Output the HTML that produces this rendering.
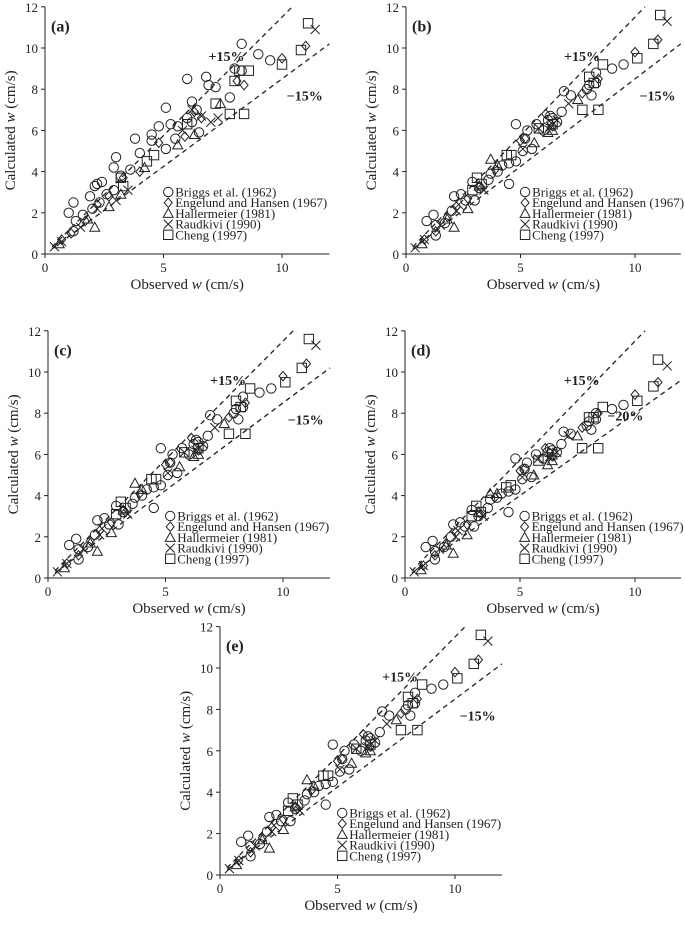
<!DOCTYPE html>
<html><head><meta charset="utf-8"><style>
html,body{margin:0;padding:0;background:#fff}
svg{display:block;font-family:"Liberation Serif",serif}
</style></head><body>
<svg id="chart" width="685" height="940" viewBox="0 0 685 940" xmlns="http://www.w3.org/2000/svg"></svg>
<script>
// ---- data (observed, calculated) per panel ----
const briggsA=[[1.0,2.0],[1.2,2.5],[1.3,1.6],[1.2,1.1],[1.6,1.9],[1.9,2.8],[2.1,3.3],[2.2,3.4],[2.4,3.5],[2.0,2.2],[2.3,2.5],[2.6,2.9],[2.9,3.1],[3.0,4.7],[2.9,4.2],[3.2,3.8],[3.6,4.1],[3.8,5.6],[4.0,4.9],[4.5,5.8],[4.5,5.5],[4.8,6.2],[5.1,7.1],[5.1,5.1],[5.3,6.3],[5.5,5.6],[5.6,6.2],[6.0,8.5],[6.0,6.6],[6.2,7.4],[6.4,7.0],[6.5,5.9],[6.8,8.6],[6.9,8.2],[7.2,8.1],[7.8,7.6],[8.0,9.0],[8.3,10.2],[8.3,8.9],[9.0,9.7],[9.5,9.4],[6.2,6.4]];
const engelundA=[[0.7,0.7],[1.1,1.0],[1.7,1.6],[2.2,2.4],[2.7,2.8],[3.3,3.7],[4.0,4.0],[4.8,5.4],[5.9,5.7],[6.3,6.9],[8.1,8.4],[8.4,8.2],[10.0,9.5],[11.0,10.1],[6.6,6.6]];
const hallerA=[[0.6,0.5],[2.1,1.3],[2.7,2.3],[3.2,2.9],[5.6,5.3],[6.3,5.8],[7.4,7.3],[4.2,4.2],[1.8,1.7]];
const raudA=[[0.4,0.35],[0.7,0.6],[1.5,1.3],[2.2,2.2],[3.0,2.6],[3.5,3.1],[5.8,6.0],[6.6,6.7],[7.0,6.4],[7.3,6.6],[11.4,10.9],[6.2,7.0]];
const chengA=[[3.2,3.7],[3.3,3.3],[4.3,4.5],[4.6,4.8],[6.0,6.3],[7.2,7.3],[7.8,6.8],[8.0,8.4],[8.2,8.9],[8.6,8.9],[8.4,6.8],[10.0,9.2],[10.8,9.9],[11.1,11.2]];

const briggsB=[[0.9,1.6],[1.2,1.9],[1.3,1.4],[1.3,0.9],[1.7,1.5],[2.0,2.1],[2.1,2.8],[2.4,2.9],[2.6,2.6],[2.9,3.5],[3.0,2.6],[3.2,3.2],[3.6,3.6],[3.7,3.9],[4.0,4.0],[4.2,4.3],[4.5,4.4],[4.5,3.4],[4.8,6.3],[4.8,4.5],[5.1,5.0],[5.3,6.0],[5.2,5.6],[5.5,5.1],[6.0,6.0],[6.2,6.5],[6.3,6.7],[6.6,6.4],[6.8,6.9],[6.9,7.9],[7.2,7.7],[7.9,8.0],[8.0,8.2],[8.1,7.7],[8.3,8.3],[8.3,8.8],[9.0,9.0],[9.5,9.2],[5.7,6.3],[6.4,6.6]];
const engelundB=[[0.8,0.7],[1.3,1.1],[1.8,1.8],[2.2,2.3],[2.7,2.7],[3.3,3.2],[3.9,4.1],[5.0,5.5],[5.2,5.6],[6.1,6.8],[6.4,6.2],[7.7,7.8],[8.4,8.5],[10.0,9.8],[11.0,10.4]];
const hallerB=[[0.7,0.5],[2.1,1.3],[2.7,2.2],[3.2,3.3],[3.7,4.6],[5.6,5.4],[6.2,5.9],[6.4,6.0],[7.5,7.5],[4.0,4.3],[1.8,1.7]];
const raudB=[[0.4,0.3],[0.8,0.7],[1.5,1.4],[2.2,2.1],[2.3,2.4],[3.4,3.1],[5.1,5.1],[6.3,6.2],[6.6,6.5],[7.1,7.3],[11.4,11.3],[5.8,6.1]];
const chengB=[[2.9,3.1],[3.1,3.7],[3.3,3.4],[4.4,4.8],[4.6,4.8],[5.8,6.1],[6.4,6.3],[7.7,7.0],[8.0,8.6],[8.2,8.3],[8.6,9.2],[8.4,7.0],[10.1,9.5],[10.8,10.2],[11.1,11.6]];

const briggsD=[[0.9,1.5],[1.2,1.8],[1.3,1.3],[1.3,0.9],[1.7,1.5],[2.0,2.0],[2.1,2.6],[2.4,2.7],[2.6,2.5],[2.9,3.3],[3.0,2.5],[3.2,3.0],[3.6,3.4],[3.7,3.8],[4.0,3.9],[4.2,4.1],[4.5,4.2],[4.5,3.2],[4.8,5.8],[4.8,4.3],[5.1,4.8],[5.3,5.6],[5.2,5.3],[5.5,4.9],[6.0,5.8],[6.2,6.1],[6.3,6.3],[6.6,6.1],[6.8,6.5],[6.9,7.1],[7.2,7.0],[7.9,7.4],[8.0,7.6],[8.1,7.2],[8.3,7.7],[8.3,8.0],[9.0,8.2],[9.5,8.4],[5.7,6.0],[6.4,6.2]];
const engelundD=[[0.8,0.6],[1.3,1.1],[1.8,1.7],[2.2,2.2],[2.7,2.6],[3.3,3.1],[3.9,3.9],[5.0,5.2],[5.2,5.3],[6.1,6.3],[6.4,5.9],[7.7,7.3],[8.4,8.0],[10.0,8.9],[11.0,9.5]];
const hallerD=[[0.7,0.4],[2.1,1.2],[2.7,2.1],[3.2,3.2],[3.7,4.1],[5.6,5.0],[6.2,5.5],[6.4,5.7],[7.5,6.9],[4.0,4.1],[1.8,1.6]];
const raudD=[[0.4,0.3],[0.8,0.6],[1.5,1.4],[2.2,2.0],[2.3,2.3],[3.4,3.0],[5.1,4.9],[6.3,5.9],[6.6,6.1],[7.1,6.9],[11.4,10.3],[5.8,5.8]];
const chengD=[[2.9,3.0],[3.1,3.5],[3.3,3.2],[4.4,4.4],[4.6,4.5],[5.8,5.7],[6.4,6.0],[7.7,6.3],[8.0,7.8],[8.2,7.8],[8.6,8.3],[8.4,6.3],[10.1,8.6],[10.8,9.3],[11.0,10.6]];

const seriesNames=["Briggs et al. (1962)","Engelund and Hansen (1967)","Hallermeier (1981)","Raudkivi (1990)","Cheng (1997)"];
const seriesKeys=["circle","diamond","triangle","cross","square"];
const xTicks=[0,5,10];
const yTicks=[0,2,4,6,8,10,12];

const panels=[
 {id:"a",ox:45,oy:254,sx:23.7,sy:20.6,lower:15,lx:10.2,ly:7.7,data:[briggsA,engelundA,hallerA,raudA,chengA]},
 {id:"b",ox:406,oy:254,sx:22.9,sy:20.6,lower:15,lx:10.2,ly:7.7,data:[briggsB,engelundB,hallerB,raudB,chengB]},
 {id:"c",ox:48,oy:578,sx:23.5,sy:20.6,lower:15,lx:10.2,ly:7.7,data:[briggsB,engelundB,hallerB,raudB,chengB]},
 {id:"d",ox:405,oy:578,sx:23.0,sy:20.6,lower:20,lx:8.8,ly:7.9,data:[briggsD,engelundD,hallerD,raudD,chengD]},
 {id:"e",ox:220,oy:875,sx:23.5,sy:20.7,lower:15,lx:10.2,ly:7.7,data:[briggsB,engelundB,hallerB,raudB,chengB]}
];

const NS="http://www.w3.org/2000/svg";
const svg=document.getElementById("chart");
function mk(tag,attrs,parent){const e=document.createElementNS(NS,tag);for(const k in attrs)e.setAttribute(k,attrs[k]);parent.appendChild(e);return e;}

function marker(kind,x,y,g){
  const st={fill:"none",stroke:"#222","stroke-width":1};
  let e;
  if(kind==="circle") e=mk("circle",Object.assign({cx:x,cy:y,r:4.7},st),g);
  else if(kind==="diamond") e=mk("polygon",Object.assign({points:`${x},${y-4.7} ${x+4},${y} ${x},${y+4.7} ${x-4},${y}`},st),g);
  else if(kind==="triangle") e=mk("polygon",Object.assign({points:`${x},${y-5} ${x+5},${y+4} ${x-5},${y+4}`},st),g);
  else if(kind==="cross") e=mk("path",Object.assign({d:`M${x-4.5},${y-4.5}L${x+4.5},${y+4.5}M${x+4.5},${y-4.5}L${x-4.5},${y+4.5}`},st),g);
  else e=mk("rect",Object.assign({x:x-4.7,y:y-4.7,width:9.4,height:9.4},st),g);
  return e;
}

panels.forEach(p=>{
  const X=v=>p.ox+v*p.sx, Y=v=>p.oy-v*p.sy;
  const g=mk("g",{},svg);
  
  
  const ax=mk("path",{d:`M${X(0)},${Y(12)}L${X(0)},${Y(0)}L${X(12)},${Y(0)}`,stroke:"#222","stroke-width":1,fill:"none"},g);
  
  
  yTicks.forEach(t=>{
    mk("line",{x1:X(0)-4,x2:X(0),y1:Y(t),y2:Y(t),stroke:"#222"},g);
    const tx=mk("text",{x:X(0)-7,y:Y(t)+5,"text-anchor":"end","font-size":13,fill:"#222"},g);
    tx.textContent=t;
    
    
  });
  xTicks.forEach(t=>{
    mk("line",{x1:X(t),x2:X(t),y1:Y(0),y2:Y(0)+4,stroke:"#222"},g);
    const tx=mk("text",{x:X(t),y:Y(0)+18,"text-anchor":"middle","font-size":13,fill:"#222"},g);
    tx.textContent=t;
    
    
  });
  const xt=mk("text",{x:X(6),y:Y(0)+35,"text-anchor":"middle","font-size":15,fill:"#222"},g);
  xt.innerHTML='Observed <tspan font-style="italic">w</tspan> (cm/s)';
  
  
  const yt=mk("text",{x:0,y:0,"text-anchor":"middle","font-size":15,fill:"#222",transform:`translate(${X(0)-30},${Y(6)}) rotate(-90)`},g);
  yt.innerHTML='Calculated <tspan font-style="italic">w</tspan> (cm/s)';
  
  
  const up=1.15, lo=1-p.lower/100;
  const l1=mk("line",{x1:X(0.3),y1:Y(0.3*up),x2:X(12/up),y2:Y(12),stroke:"#222","stroke-width":1.3,"stroke-dasharray":"5,4"},g);
  
  
  const l2=mk("line",{x1:X(0.3),y1:Y(0.3*lo),x2:X(12),y2:Y(12*lo),stroke:"#222","stroke-width":1.3,"stroke-dasharray":"5,4"},g);
  
  
  const t1=mk("text",{x:X(6.9),y:Y(9.6)+5,"font-size":14,"font-weight":"bold",fill:"#222"},g);
  t1.textContent="+15%";
  
  
  const t2=mk("text",{x:X(p.lx),y:Y(p.ly)+5,"font-size":14,"font-weight":"bold",fill:"#222"},g);
  t2.textContent="\u2212"+p.lower+"%";
  
  
  const pl=mk("text",{x:X(0)+6,y:Y(11.1)+6,"font-size":16,"font-weight":"bold",fill:"#222"},g);
  pl.textContent="("+p.id+")";
  
  
  p.data.forEach((arr,si)=>{
    arr.forEach(d=>{
      const m=marker(seriesKeys[si],X(d[0]),Y(d[1]),g);
      
      
    });
  });
  seriesNames.forEach((n,i)=>{
    const ly=Y(0)-62+i*10.7;
    const lx=X(5.2);
    const m=marker(seriesKeys[i],lx,ly,g);
    
    
    const t=mk("text",{x:lx+7,y:ly+4.5,"font-size":13,fill:"#222"},g);
    t.textContent=n;
    
    
  });
});
</script>
</body></html>
